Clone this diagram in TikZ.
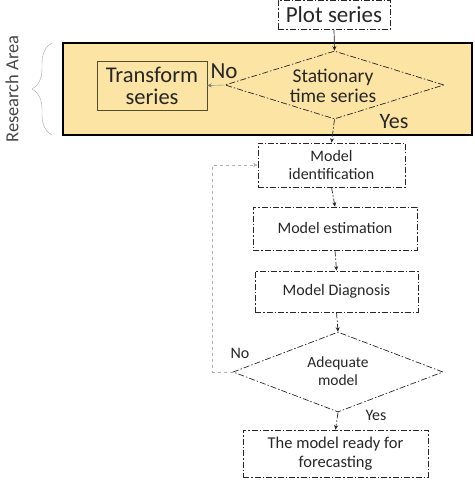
\documentclass[tikz,border=0pt]{standalone}
\usepackage{fontspec}
\setmainfont{Carlito}
\usetikzlibrary{shapes.geometric,arrows.meta,decorations.pathreplacing}
\definecolor{areafill}{HTML}{FCE4A4}
\definecolor{inkgray}{HTML}{262626}
\begin{document}
\begin{tikzpicture}[x=1pt,y=-1pt,
  every node/.style={text=inkgray},
  dashdot/.style={line width=0.7pt,dash pattern=on 6pt off 2pt on 1.5pt off 2pt},
  stepbox/.style={draw=inkgray,dashdot,inner sep=0,align=center,font=\fontsize{16}{19}\selectfont},
  decision/.style={draw=inkgray,dashdot,shape=diamond,inner sep=0},
  flow/.style={draw=inkgray,dashdot,-{Stealth[length=4.5pt,width=4pt]}},
  lbl/.style={inner sep=0,font=\fontsize{16}{19}\selectfont}]
  \useasboundingbox (0,0) rectangle (474,481);

  % Research area (yellow band)
  \node[draw=black,line width=2.5pt,fill=areafill,minimum width=409,minimum height=92,inner sep=0] (area) at (267.5,89) {};
  \draw[gray!70,decorate,decoration={brace,amplitude=20pt}] (52,135) -- (52,43) coordinate (bracetop);
  \node[rotate=90,font=\fontsize{18.5}{21}\selectfont,text=inkgray!85] (research) at (12,89) {Research Area};

  % Top part
  \node[stepbox,font=\fontsize{23}{26}\selectfont,minimum width=112,minimum height=29] (plot) at (334,15) {Plot series};
  \node[draw=black!55!olive,inner sep=0,align=center,minimum width=110,minimum height=49,font=\fontsize{22.5}{25}\selectfont] (trans) at (152,85.5) {Transform\\[-3pt]series};
  \node[decision,minimum width=219,minimum height=68] (stat) at (334.5,85) {};
  \node[align=center,inner sep=0,font=\fontsize{19.5}{22}\selectfont] (stattext) at (333,86) {Stationary\\[-2pt]time series};
  \node[lbl,font=\fontsize{23}{26}\selectfont] (statno) at (224,71) {No};
  \node[lbl,font=\fontsize{22}{25}\selectfont] (statyes) at (394,122) {Yes};

  % Model steps
  \node[stepbox,minimum width=147,minimum height=44] (ident) at (331.5,165) {Model\\[-1pt]identification};
  \node[stepbox,minimum width=164,minimum height=43] (estim) at (335,228.5) {Model estimation};
  \node[stepbox,minimum width=163,minimum height=41] (diag) at (336.5,291.5) {Model Diagnosis};
  \node[decision,minimum width=210,minimum height=80] (adeq) at (338,372) {};
  \node[align=center,inner sep=0,font=\fontsize{15.5}{18.5}\selectfont] (adeqtext) at (338,371) {Adequate\\model};
  \node[lbl] (adeqno) at (240,353) {No};
  \node[lbl] (adeqyes) at (376,415) {Yes};
  \node[stepbox,font=\fontsize{16.5}{19.5}\selectfont,minimum width=185,minimum height=47] (final) at (335.5,453.5) {The model ready for\\forecasting};

  % Connectors
  \draw[-{Stealth[length=4.5pt,width=4pt]},inkgray,line width=0.7pt] (plot.south) -- (stat.north);
  \draw[-{Stealth[length=4.5pt,width=4pt]},gray] (stat.west) -- (trans.east);
  \draw[flow] (stat.south) -- (ident.north);
  \draw[flow] (ident.south) -- (estim.north);
  \draw[flow] (estim.south) -- (diag.north);
  \draw[flow] (diag.south) -- (adeq.north);
  \draw[flow] (adeq.south) -- (final.north);
  % Feedback loop
  \draw[gray!60,dashed,-{Stealth[length=4.5pt,width=4pt]}] (adeq.west) -- ++(-20,0) |- (ident.west);
\end{tikzpicture}
\end{document}
